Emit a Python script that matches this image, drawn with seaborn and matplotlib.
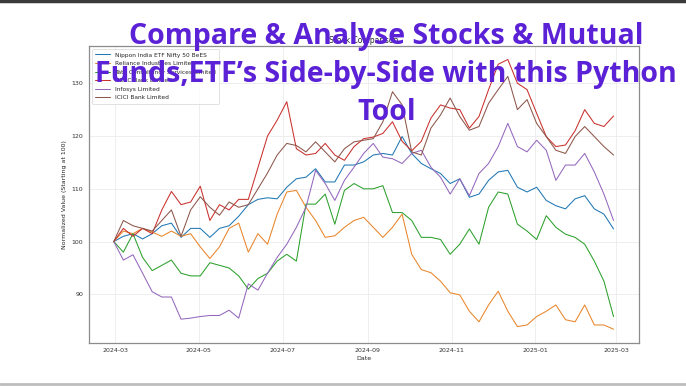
import matplotlib
matplotlib.use("Agg")
import pandas as pd
import matplotlib.pyplot as plt
import matplotlib.dates as mdates
from matplotlib.lines import Line2D
import seaborn as sns


# weekly closes, normalized to 100 on the first day
START_DATE = "2024-02-29"

NAMES = [
    "Nippon India ETF Nifty 50 BeES",
    "Reliance Industries Limited",
    "Tata Consultancy Services Limited",
    "HDFC Bank Limited",
    "Infosys Limited",
    "ICICI Bank Limited",
]

NIPPON = [100, 101, 101.5, 100.5, 101.5, 103, 103.5, 100.8, 102.5, 102.5, 100.8, 102.5, 103, 104.8, 107, 108, 108.3,
          108.1, 110.3, 111.9, 112.2, 113.8, 111.3, 111.3, 114.5, 114.5, 115.1, 116.4, 116.7, 116.4, 119.9, 116.7,
          114.8, 113.8, 112.9, 111,
          111.9, 108.4, 109, 111.6, 113.2, 113.5, 110.3, 109.4, 110.3, 107.8, 106.8, 106.2, 108.1, 108.7, 106.2,
          105.2, 102.4]

RELIANCE = [100, 102, 101.5, 102.5, 101.8, 101, 102, 101, 101.5, 99, 96.8, 99, 102.5, 103.5, 98, 101.5, 99.5,
            105.2, 109.4, 109.7, 106.5, 104, 100.8, 101.1, 102.7, 104, 104.6, 102.7, 100.8, 102.7, 105.2, 97.6,
            94.7, 94.1, 92.5, 90.3,
            89.9, 86.8, 84.8, 88, 90.6, 86.8, 83.9, 84.2, 85.8, 86.8, 88, 85.2, 84.8, 88, 84.2, 84.2, 83.4]

TCS = [100, 98, 101.5, 97, 94.5, 95.5, 96.5, 94, 93.5, 93.5, 96, 95.5, 95, 93.5, 91, 93, 94,
       96.3, 97.6, 96.3, 107.1, 107.1, 109, 103.3, 109.7, 111, 110, 110, 110.6, 105.5, 105.5, 104, 100.8, 100.8,
       100.4, 97.6,
       99.5, 102.4, 99.5, 106.5, 109.4, 109, 103.3, 102, 100.4, 104.9, 102.7, 101.4, 100.8, 99.5, 96.3, 92.5, 85.8]

HDFC = [100, 102.5, 101, 102.5, 101.5, 106, 109.5, 107, 107.5, 110.5, 104, 107, 106, 108, 108, 114, 120,
        123, 126.5, 117.6, 116.4, 116.7, 118.6, 116.4, 115.4, 118, 119.5, 119.8, 120.5, 122.7, 119, 117.2, 119,
        123.4, 125.9, 125.3,
        125, 121.5, 123.7, 128.8, 133.6, 134.5, 130, 128.8, 124.3, 119.9, 118, 118.3, 121, 125, 122.4, 121.8, 123.8]

INFOSYS = [100, 96.5, 97.5, 94, 90.5, 89.5, 89.5, 85.3, 85.5, 85.8, 86, 86, 87, 85.5, 92, 90.8, 94,
           97, 99.5, 102.7, 106.5, 113.5, 111, 107.8, 111.6, 114.1, 116.7, 118.6, 116, 115.7, 114.8, 116.7, 117.3,
           114.1, 112.2, 109,
           111.9, 108.7, 112.9, 114.8, 118, 122.4, 118, 117, 119.2, 117.3, 111.6, 114.5, 114.5, 116.7, 113.2, 109, 104]

ICICI = [100, 104, 103, 102.5, 102, 104, 106, 101, 106, 108.5, 106.5, 105, 107.5, 106.5, 107, 110, 113,
         116.4, 118.6, 118.2, 117, 118.9, 117, 115.1, 117.6, 118.9, 119.2, 119.5, 122.7, 128.4, 125.9, 117, 116.4,
         121.5, 124, 127.2,
         123.7, 121.1, 121.8, 126.2, 128.8, 131.3, 125, 126.9, 122.4, 119.9, 117.3, 116.7, 119.9, 121.8, 119.9,
         118, 116.4]

COLORS = ["#1f77b4", "#e8852a", "#2ca02c", "#c9302c", "#9467bd", "#8c564b"]

HEADLINE = ["Compare & Analyse Stocks & Mutual",
            "Funds,ETF\u2019s Side-by-Side with this Python",
            "Tool"]
PURPLE = "#5b21d6"


# long table for seaborn
def build_frame():
    dates = pd.date_range(START_DATE, periods=len(NIPPON), freq="7D")
    frames = []
    for name, vals in zip(NAMES, [NIPPON, RELIANCE, TCS, HDFC, INFOSYS, ICICI]):
        frames.append(pd.DataFrame({"Date": dates, "Value": vals, "Stock": name}))
    return pd.concat(frames, ignore_index=True)


def plot_chart(df):
    sns.set_theme(style="whitegrid")
    plt.rcParams["font.family"] = ["DejaVu Sans"]

    fig = plt.figure(figsize=(6.86, 3.86), dpi=100)
    fig.patch.set_facecolor("white")
    ax = fig.add_axes([0.1294, 0.1122, 0.8014, 0.7686])

    sns.lineplot(data=df, x="Date", y="Value", hue="Stock", hue_order=NAMES,
                 palette=COLORS, linewidth=0.75, ax=ax)

    ax.set_title("Stock Comparison", fontsize=5.5, pad=2)
    ax.set_xlabel("Date", fontsize=4.5, labelpad=2)
    ax.set_ylabel("Normalized Value (Starting at 100)", fontsize=4.5, labelpad=3)

    ax.xaxis.set_major_locator(mdates.MonthLocator(bymonth=[1, 3, 5, 7, 9, 11]))
    ax.xaxis.set_major_formatter(mdates.DateFormatter("%Y-%m"))
    ax.tick_params(labelsize=4.5, length=2, width=0.5, pad=2, colors="#333333")

    ax.grid(True, color="#ebebeb", linewidth=0.6)
    for side in ax.spines.values():
        side.set_visible(True)
        side.set_color("#8c8c8c")
        side.set_linewidth(0.9)

    leg = ax.legend(loc="upper left", fontsize=4.2, frameon=True, handlelength=2.6,
                    borderpad=0.6, labelspacing=0.6)
    leg.get_frame().set_edgecolor("#cccccc")
    leg.get_frame().set_linewidth(0.5)

    # thumbnail headline on top of the chart
    for text, y in zip(HEADLINE, [0.905, 0.808, 0.708]):
        fig.text(0.563, y, text, ha="center", va="center", fontsize=20.5,
                 fontweight="bold", color=PURPLE, family=["Open Sans", "DejaVu Sans"])

    # frame lines of the thumbnail
    fig.add_artist(Line2D([0, 1], [0.997, 0.997], transform=fig.transFigure,
                          color="#3a3a3a", linewidth=2.5))
    fig.add_artist(Line2D([0, 1], [0.004, 0.004], transform=fig.transFigure,
                          color="#bdbdbd", linewidth=2))

    fig.savefig("out.png", dpi=100)
    plt.close(fig)


def main():
    df = build_frame()
    plot_chart(df)


if __name__ == "__main__":
    main()
